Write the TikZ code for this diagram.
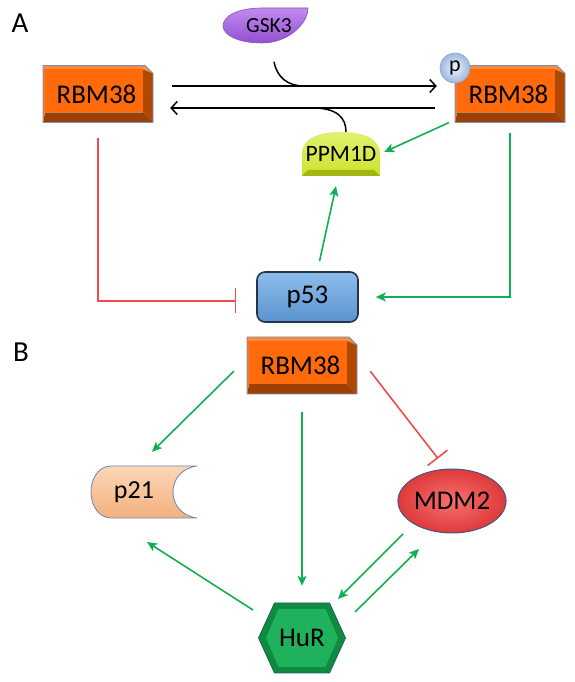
\documentclass[tikz,border=0pt]{standalone}
\usepackage{fontspec}
\setmainfont{Carlito}
\usetikzlibrary{arrows.meta,shapes.geometric,shadings}
\pgfdeclarelayer{bg}
\pgfsetlayers{bg,main}
\definecolor{orMain}{HTML}{FF6A0A}
\definecolor{orTop}{HTML}{F98A40}
\definecolor{orLeft}{HTML}{F57A28}
\definecolor{orRight}{HTML}{B04800}
\definecolor{orBot}{HTML}{9E4005}
\definecolor{rbmBorder}{HTML}{7890B4}
\definecolor{grnc}{HTML}{10B050}
\definecolor{redc}{HTML}{F24B4B}
\definecolor{gskTop}{HTML}{C28AF0}
\definecolor{gskBot}{HTML}{9350D0}
\definecolor{gskBorder}{HTML}{8A50C0}
\definecolor{ppmFace}{HTML}{CCE32B}
\definecolor{ppmTop}{HTML}{E0F070}
\definecolor{ppmBev}{HTML}{A2B512}
\definecolor{p53Top}{HTML}{8DBDEB}
\definecolor{p53Bot}{HTML}{5A93CF}
\definecolor{p53Border}{HTML}{26344A}
\definecolor{p21Top}{HTML}{FCD7B8}
\definecolor{p21Bot}{HTML}{F4B07E}
\definecolor{p21Border}{HTML}{6A86B8}
\definecolor{mdmIn}{HTML}{F87070}
\definecolor{mdmOut}{HTML}{DE3A3A}
\definecolor{mdmBorder}{HTML}{44557F}
\definecolor{hurOut}{HTML}{0F8A42}
\definecolor{hurIn}{HTML}{20B15C}
\definecolor{hurBorder}{HTML}{1A6650}
\definecolor{pIn}{HTML}{EEF4FB}
\definecolor{pOut}{HTML}{9DB8DE}
\definecolor{pBorder}{HTML}{8DA5C8}
\tikzset{
 bevelbox/.pic={
  \fill[orTop] (-55,28.5) -- (47,28.5) -- (45,24.5) -- (-53,24.5) -- cycle;
  \fill[orTop] (47,28.5) -- (55,20.5) -- (45,24.5) -- cycle;
  \fill[orRight] (55,20.5) -- (55,-28.5) -- (45,-18.5) -- (45,24.5) -- cycle;
  \fill[orBot] (-55,-28.5) -- (55,-28.5) -- (45,-18.5) -- (-53,-18.5) -- cycle;
  \fill[orLeft] (-55,28.5) -- (-53,24.5) -- (-53,-18.5) -- (-55,-28.5) -- cycle;
  \fill[orMain] (-53,-18.5) rectangle (45,24.5);
  \draw[rbmBorder, line width=0.8pt, line join=round] (-55,-28.5) -- (-55,28.5) -- (47,28.5) -- (55,20.5) -- (55,-28.5) -- cycle;
 },
 gskshape/.pic={
  \shade[top color=gskTop, bottom color=gskBot, draw=gskBorder, line width=0.6pt]
   (42,18) .. controls (42,2) and (22,-17) .. (-4,-17)
   .. controls (-30,-17) and (-43,-8) .. (-43,0)
   .. controls (-43,10) and (-28,18) .. (-4,18) -- cycle;
 },
 ppmshape/.pic={
  \shade[top color=ppmTop, bottom color=ppmFace]
   (-39,-22) -- (-39,0) .. controls (-39,16) and (-22,22) .. (0,22)
   .. controls (22,22) and (39,16) .. (39,0) -- (39,-22) -- cycle;
  \fill[ppmBev] (-39,-22) -- (39,-22) -- (33,-16) -- (-33,-16) -- cycle;
 },
 p21shape/.pic={
  \shade[top color=p21Top, bottom color=p21Bot, draw=p21Border, line width=0.8pt]
   (53,26) -- (-33,26) .. controls (-45,26) and (-53,14) .. (-53,0)
   .. controls (-53,-14) and (-45,-26) .. (-33,-26) -- (53,-26)
   .. controls (37,-24) and (29,-12) .. (29,0)
   .. controls (29,12) and (37,24) .. (53,26) -- cycle;
 },
 hurshape/.pic={
  \filldraw[fill=hurOut, draw=hurBorder, line width=0.8pt]
   (-43.5,0) -- (-27.5,35) -- (27.5,35) -- (43.5,0) -- (27.5,-35) -- (-27.5,-35) -- cycle;
  \fill[hurIn] (-36,0) -- (-23.5,29) -- (23.5,29) -- (36,0) -- (23.5,-29) -- (-23.5,-29) -- cycle;
 },
}
\begin{document}
\begin{tikzpicture}[x=1pt,y=1pt,
  lbl/.style={font=\fontsize{29}{31}\selectfont, inner sep=0pt},
  txt/.style={inner sep=0pt, font=\fontsize{27}{29}\selectfont},
  rbm/.style={txt, rectangle, minimum width=110pt, minimum height=57pt},
  blk/.style={line width=1.5pt, -{Straight Barb[length=6pt,width=13pt]}},
  link/.style={line width=1.5pt},
  grn/.style={draw=grnc, line width=1.6pt, -{Stealth[length=10pt,width=9pt,inset=2.5pt]}},
  inh/.style={draw=redc, line width=1.6pt, -{Bar[width=25pt,line width=1.6pt]}},
]
\useasboundingbox (0,0) rectangle (575,682);

% labels
\node[lbl] (labA) at (20,659) {A};
\node[lbl] (labB) at (21,330) {B};

% nodes, panel A
\node[txt, font=\fontsize{21.5}{23}\selectfont, minimum width=85pt, minimum height=35pt] (gsk) at (266,656) {\hspace*{6pt}GSK3};
\node[rbm] (r1) at (98,588) {\hspace*{-3pt}RBM38};
\node[rbm] (r2) at (510,588) {\hspace*{-3pt}RBM38};
\node[circle, minimum size=30pt, inner sep=0pt, inner color=pIn, outer color=pOut, draw=pBorder, line width=0.6pt, font=\fontsize{22}{24}\selectfont] (pc) at (455,614) {p};
\node[txt, font=\fontsize{23.5}{25}\selectfont, minimum width=78pt, minimum height=44pt] (ppm) at (341,528) {\raisebox{-4pt}{PPM1D}};
\node[txt, rectangle, rounded corners=8pt, minimum width=101pt, minimum height=50pt, top color=p53Top, bottom color=p53Bot, draw=p53Border, line width=1.6pt] (p53) at (307.5,385) {p53};

% nodes, panel B
\node[rbm] (r3) at (302,316.5) {\hspace*{-3pt}RBM38};
\node[txt, font=\fontsize{26}{28}\selectfont, minimum width=86pt, minimum height=52pt] (p21) at (134,190) {p21};
\node[txt, ellipse, minimum width=108pt, minimum height=64pt, inner color=mdmIn, outer color=mdmOut, draw=mdmBorder, line width=1pt] (mdm) at (452,181) {MDM2};
\node[txt, minimum width=87pt, minimum height=70pt] (hur) at (302,44) {HuR};

% shapes behind text
\begin{pgfonlayer}{bg}
 \pic at (gsk.center) {gskshape};
 \pic at (r1.center) {bevelbox};
 \pic at (r2.center) {bevelbox};
 \pic at (r3.center) {bevelbox};
 \pic at (ppm.center) {ppmshape};
 \pic at ([xshift=10pt]p21.center) {p21shape};
 \pic at (hur.center) {hurshape};
\end{pgfonlayer}

% panel A connectors
\draw[blk] ([shift={(19,8)}]r1.east) -- ([shift={(-18,8)}]r2.west);
\draw[blk] ([shift={(-20,-14)}]r2.west) -- ([shift={(17,-14)}]r1.east);
\coordinate (gj) at (304,596);
\coordinate (pj) at (313,574);
\draw[link] ([shift={(8,-18)}]gsk.south) .. controls +(3,-16) and +(-16,0) .. (gj);
\draw[link] (pj) .. controls +(24,0) and +(0,14) .. ([xshift=5pt]ppm.north);
\draw[grn] ([xshift=-6pt]r2.south west) -- ([shift={(4,2)}]ppm.east);
\draw[grn] ([shift={(12,10)}]p53.north) -- ([shift={(-5,-10)}]ppm.south);
\draw[grn] ([yshift=-10pt]r2.south) |- ([xshift=17pt]p53.east);
\draw[inh] ([yshift=-15pt]r1.south) |- ([shift={(-20,-4)}]p53.west);

% panel B connectors
\draw[grn] ([shift={(-13,23)}]r3.south west) -- ([shift={(18,14)}]p21.north);
\draw[grn] ([yshift=-18pt]r3.south) -- ([yshift=17pt]hur.north);
\draw[inh] ([shift={(13,23)}]r3.south east) -- ([shift={(-14,10)}]mdm.north);
\draw[grn] ([shift={(-49,-33)}]mdm.center) -- ([shift={(36,39)}]hur.center);
\draw[grn] ([shift={(53,26)}]hur.center) -- ([shift={(-33,-48)}]mdm.center);
\draw[grn] ([shift={(-49,28)}]hur.center) -- ([shift={(13,-50)}]p21.center);
\end{tikzpicture}
\end{document}
